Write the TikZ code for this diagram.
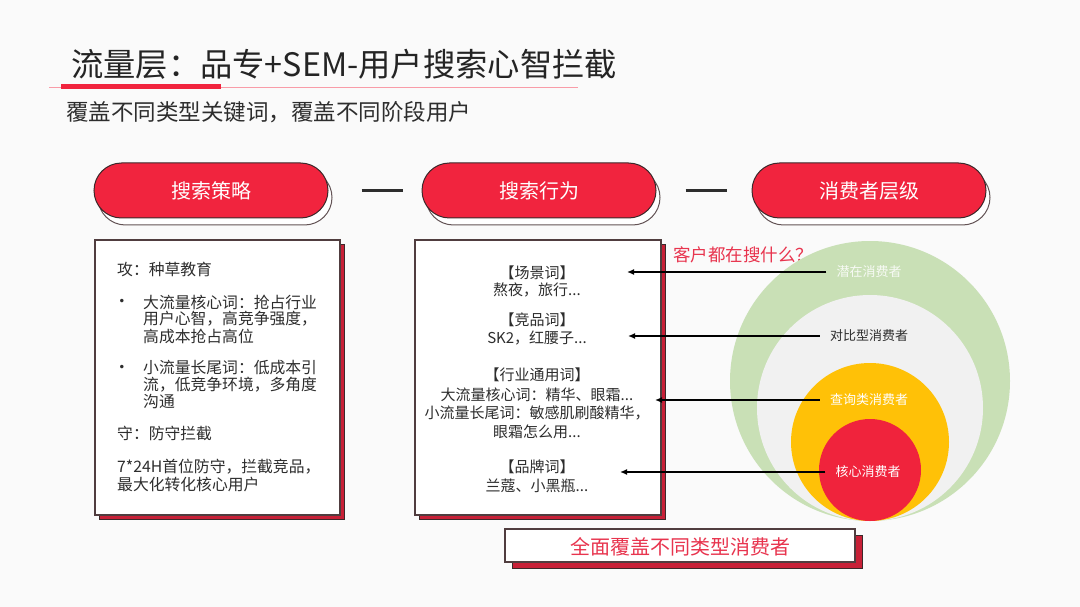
\documentclass[tikz,border=0pt]{standalone}
\usepackage{fontspec}
\setmainfont{Noto Sans CJK SC}
\newfontfamily\dejavu{DejaVu Sans}
\usetikzlibrary{shapes.misc,arrows.meta}
\definecolor{bg}{RGB}{250,250,250}
\definecolor{pillred}{RGB}{241,36,62}
\definecolor{shred}{RGB}{200,32,55}
\definecolor{edge}{RGB}{60,40,42}
\definecolor{txt}{RGB}{45,45,45}
\definecolor{redtxt}{RGB}{232,52,78}
\definecolor{cgreen}{RGB}{201,224,182}
\definecolor{cgray}{RGB}{241,241,241}
\definecolor{cyellow}{RGB}{255,193,7}
\definecolor{cred}{RGB}{240,35,60}
\tikzset{
  pill/.style={rounded rectangle, minimum width=234pt, minimum height=55pt, inner sep=0pt,
    fill=pillred, draw=edge, line width=1pt, text=white, font=\fontsize{20}{24}\selectfont},
  pillshadow/.style={rounded rectangle, minimum width=234pt, minimum height=55pt, inner sep=0pt,
    fill=white, draw=edge!80, line width=1pt},
  card/.style={rectangle, fill=white, draw=edge!90, line width=1.2pt, inner sep=0pt},
  cardshadow/.style={rectangle, fill=shred, draw=edge, line width=1pt, inner sep=0pt},
  bodytxt/.style={text=txt, inner sep=0pt, font=\fontsize{15.8}{18}\selectfont},
  bullettxt/.style={text=txt, inner sep=0pt, font=\dejavu\fontsize{12}{14}\selectfont},
  midtxt/.style={text=txt, inner sep=0pt, font=\fontsize{15}{18}\selectfont},
  ring/.style={circle, inner sep=0pt, draw=none},
  ringlabel/.style={inner sep=0pt, font=\fontsize{13}{15}\selectfont},
  pointer/.style={draw=black, line width=1.6pt, -{Latex[length=7pt,width=6pt]}, shorten <=10pt},
  joiner/.style={draw=txt, line width=2.6pt},
}
\begin{document}
\begin{tikzpicture}[x=1pt,y=-1pt]
\useasboundingbox[fill=bg] (0,0) rectangle (1080,607);

% title
\node[anchor=west, inner sep=0pt, text=txt!80!black, font=\fontsize{32.3}{38}\selectfont] (title) at (71,64) {流量层：品专+SEM-用户搜索心智拦截};
\coordinate (ul1) at (49,87); \coordinate (ul2) at (578,87);
\coordinate (ur1) at (61,87); \coordinate (ur2) at (221,87);
\draw[draw=pillred!45, line width=0.8pt] (ul1) -- (ul2);
\draw[draw=pillred, line width=5pt] (ur1) -- (ur2);
\node[anchor=west, inner sep=0pt, text=txt, font=\fontsize{22.5}{26}\selectfont] (sub) at (66,112) {覆盖不同类型关键词，覆盖不同阶段用户};

% pills
\node[pillshadow] (p1s) at (215,197.5) {};
\node[pillshadow] (p2s) at (543,197.5) {};
\node[pillshadow] (p3s) at (873,197.5) {};
\node[pill] (p1) at (211,190.5) {搜索策略};
\node[pill] (p2) at (539,190.5) {搜索行为};
\node[pill] (p3) at (869,190.5) {消费者层级};
\draw[joiner, shorten <=33pt, shorten >=19pt] (p1.east) -- (p2.west);
\draw[joiner, shorten <=29pt, shorten >=25pt] (p2.east) -- (p3.west);

% cards
\node[cardshadow, minimum width=245pt, minimum height=275pt] (c1s) at (221.5,381.5) {};
\node[card, minimum width=245pt, minimum height=275pt] (c1) at (217.5,377.5) {};
\node[cardshadow, minimum width=246pt, minimum height=275pt] (c2s) at (542,381.5) {};
\node[card, minimum width=246pt, minimum height=275pt] (c2) at (538,377.5) {};

% card 1 text
\node[bodytxt, anchor=west] (t1) at (117,269) {攻：种草教育};
\node[bullettxt] (b1) at (122,302) {•};
\node[bodytxt, anchor=west] (t2) at (143,302) {大流量核心词：抢占行业};
\node[bodytxt, anchor=west] (t3) at (143,319) {用户心智，高竞争强度，};
\node[bodytxt, anchor=west] (t4) at (143,336) {高成本抢占高位};
\node[bullettxt] (b2) at (122,368) {•};
\node[bodytxt, anchor=west] (t5) at (143,368) {小流量长尾词：低成本引};
\node[bodytxt, anchor=west] (t6) at (143,385) {流，低竞争环境，多角度};
\node[bodytxt, anchor=west] (t7) at (143,402) {沟通};
\node[bodytxt, anchor=west] (t8) at (117,433) {守：防守拦截};
\node[bodytxt, anchor=west] (t9) at (117,467) {7*24H首位防守，拦截竞品，};
\node[bodytxt, anchor=west] (t10) at (117,485) {最大化转化核心用户};

% card 2 text
\node[midtxt] (s1) at (537,273) {【场景词】};
\node[midtxt] (s2) at (537,290) {熬夜，旅行...};
\node[midtxt] (s3) at (537,320) {【竞品词】};
\node[midtxt] (s4) at (537,338) {SK2，红腰子...};
\node[midtxt] (s5) at (537,375) {【行业通用词】};
\node[midtxt] (s6) at (537,395) {大流量核心词：精华、眼霜...};
\node[midtxt] (s7) at (537,413) {小流量长尾词：敏感肌刷酸精华，};
\node[midtxt] (s8) at (537,432) {眼霜怎么用...};
\node[midtxt] (s9) at (537,467) {【品牌词】};
\node[midtxt] (s10) at (537,486) {兰蔻、小黑瓶...};

% question
\node[inner sep=0pt, anchor=west, text=redtxt, font=\fontsize{17.5}{20}\selectfont] (q) at (673,255) {客户都在搜什么？};

% rings
\node[ring, fill=cgreen, minimum size=280pt] (r1) at (870,381) {};
\node[ring, fill=cgray, minimum size=226pt] (r2) at (870,408) {};
\node[ring, fill=cyellow, minimum size=158pt] (r3) at (870,442) {};
\node[ring, fill=cred, minimum size=102pt] (r4) at (870,470) {};
\node[ringlabel, text=white!85!cgreen] (l1) at (869,272) {潜在消费者};
\node[ringlabel, text=txt] (l2) at (869,336) {对比型消费者};
\node[ringlabel, text=white] (l3) at (869,400) {查询类消费者};
\node[ringlabel, text=white] (l4) at (868,472) {核心消费者};

% pointers
\coordinate (a1) at (627,272);
\coordinate (a2) at (628,336);
\coordinate (a3) at (655,400);
\coordinate (a4) at (620,473);
\draw[pointer] (l1.west) -- (l1.west -| a1);
\draw[pointer] (l2.west) -- (l2.west -| a2);
\draw[pointer] (l3.west) -- (l3.west -| a3);
\draw[pointer] (l4.west) -- (l4.west -| a4);

% bottom banner
\node[cardshadow, minimum width=350pt, minimum height=33pt] (bs) at (687,551.5) {};
\node[card, minimum width=350pt, minimum height=33pt] (bb) at (680,545.5) {};
\node[inner sep=0pt, text=redtxt, font=\fontsize{20}{24}\selectfont] (bt) at (680,547) {全面覆盖不同类型消费者};
\end{tikzpicture}
\end{document}
